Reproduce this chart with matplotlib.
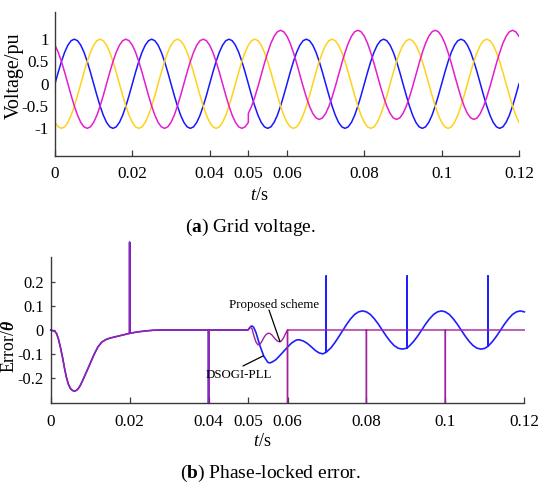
import numpy as np
import matplotlib
matplotlib.use("Agg")
import matplotlib.pyplot as plt

plt.rcParams['font.family'] = ['Liberation Serif', 'DejaVu Serif']
plt.rcParams['mathtext.fontset'] = 'custom'
plt.rcParams['mathtext.rm'] = 'Liberation Serif'
plt.rcParams['mathtext.it'] = 'Liberation Serif:italic'
plt.rcParams['mathtext.bf'] = 'Liberation Serif:bold'
plt.rcParams['mathtext.bfit'] = 'Liberation Serif:bold:italic'

# ---------------- (a) Grid voltage data (sampled every 1/1200 s) ----------------
t_volt = np.arange(145) / 1200.0

volt_a = [0, .259, .5, .707, .866, .966, 1, .966, .866, .707, .5, .259, 0, -.259, -.5, -.707, -.866, -.966, -1, -.966, -.866, -.707, -.5, -.259,
          0, .259, .5, .707, .866, .966, 1, .966, .866, .707, .5, .259, 0, -.259, -.5, -.707, -.866, -.966, -1, -.966, -.866, -.707, -.5, -.259,
          0, .259, .5, .707, .866, .966, 1, .966, .866, .707, .5, .259, 0, -.259, -.5, -.707, -.866, -.966, -1, -.966, -.866, -.707, -.5, -.259,
          0, .259, .5, .707, .866, .966, 1, .966, .866, .707, .5, .259, 0, -.259, -.5, -.707, -.866, -.966, -1, -.966, -.866, -.707, -.5, -.259,
          0, .259, .5, .707, .866, .966, 1, .966, .866, .707, .5, .259, 0, -.259, -.5, -.707, -.866, -.966, -1, -.966, -.866, -.707, -.5, -.259,
          0, .259, .5, .707, .866, .966, 1, .966, .866, .707, .5, .259, 0, -.259, -.5, -.707, -.866, -.966, -1, -.966, -.866, -.707, -.5, -.259,
          0]

volt_c = [-.866, -.966, -1, -.966, -.866, -.707, -.5, -.259, 0, .259, .5, .707, .866, .966, 1, .966, .866, .707, .5, .259, 0, -.259, -.5, -.707,
          -.866, -.966, -1, -.966, -.866, -.707, -.5, -.259, 0, .259, .5, .707, .866, .966, 1, .966, .866, .707, .5, .259, 0, -.259, -.5, -.707,
          -.866, -.966, -1, -.966, -.866, -.707, -.5, -.259, 0, .259, .5, .707, .866, .966, 1, .966, .866, .707, .5, .259, 0, -.259, -.5, -.707,
          -.866, -.966, -1, -.966, -.866, -.707, -.5, -.259, 0, .259, .5, .707, .866, .966, 1, .966, .866, .707, .5, .259, 0, -.259, -.5, -.707,
          -.866, -.966, -1, -.966, -.866, -.707, -.5, -.259, 0, .259, .5, .707, .866, .966, 1, .966, .866, .707, .5, .259, 0, -.259, -.5, -.707,
          -.866, -.966, -1, -.966, -.866, -.707, -.5, -.259, 0, .259, .5, .707, .866, .966, 1, .966, .866, .707, .5, .259, 0, -.259, -.5, -.707,
          -.866]

# phase b: before the 0.05 s disturbance (k = 0..60)
volt_b_pre = [.866, .707, .5, .259, 0, -.259, -.5, -.707, -.866, -.966, -1, -.966, -.866, -.707, -.5, -.259, 0, .259, .5, .707, .866, .966, 1, .966,
              .866, .707, .5, .259, 0, -.259, -.5, -.707, -.866, -.966, -1, -.966, -.866, -.707, -.5, -.259, 0, .259, .5, .707, .866, .966, 1, .966,
              .866, .707, .5, .259, 0, -.259, -.5, -.707, -.866, -.966, -1, -.966, -.866]
# phase b: after the 0.05 s disturbance (k = 60..144)
volt_b_post = [-.666, -.507, -.3, -.059, .2, .459, .7, .907, 1.066, 1.166, 1.2, 1.166,
               1.066, .907, .7, .459, .2, -.059, -.3, -.507, -.666, -.766, -.8, -.766, -.666, -.507, -.3, -.059, .2, .459, .7, .907, 1.066, 1.166, 1.2, 1.166,
               1.066, .907, .7, .459, .2, -.059, -.3, -.507, -.666, -.766, -.8, -.766, -.666, -.507, -.3, -.059, .2, .459, .7, .907, 1.066, 1.166, 1.2, 1.166,
               1.066, .907, .7, .459, .2, -.059, -.3, -.507, -.666, -.766, -.8, -.766, -.666, -.507, -.3, -.059, .2, .459, .7, .907, 1.066, 1.166, 1.2, 1.166,
               1.066]

volt_xticks = [0, 0.02, 0.04, 0.05, 0.06, 0.08, 0.1, 0.12]
volt_xticklabels = ['0', '0.02', '0.04', '0.05', '0.06', '0.08', '0.1', '0.12']
volt_yticks = [1, 0.5, 0, -0.5, -1]
volt_yticklabels = ['1', '0.5', '0', '-0.5', '-1']

# ---------------- (b) Phase-locked error data ----------------
trans_t = [0, 0.001, 0.0015, 0.002, 0.0025, 0.003, 0.0035, 0.004, 0.0045, 0.005, 0.0055, 0.006, 0.0065,
           0.007, 0.0075, 0.008, 0.009, 0.010, 0.011, 0.012, 0.013, 0.014, 0.015, 0.016, 0.017, 0.018,
           0.019, 0.020, 0.020, 0.020, 0.022, 0.024, 0.026, 0.028, 0.030, 0.040, 0.040, 0.040, 0.050]
trans_e = [0, -0.005, -0.015, -0.04, -0.075, -0.115, -0.16, -0.2, -0.228, -0.245, -0.253, -0.256, -0.253,
           -0.245, -0.232, -0.215, -0.178, -0.14, -0.102, -0.07, -0.05, -0.04, -0.034, -0.03, -0.026, -0.022,
           -0.018, -0.014, 0.367, -0.014, -0.008, -0.004, -0.001, 0, 0, 0, -0.307, 0, 0]

dsogi_t = [0.0503, 0.0507, 0.051, 0.0514, 0.052, 0.053, 0.054, 0.055, 0.0555, 0.056, 0.057, 0.058, 0.059,
           0.060, 0.061, 0.062, 0.0625, 0.063, 0.064, 0.065, 0.066, 0.067, 0.068, 0.069, 0.0698, 0.0698, 0.0698,
           0.071, 0.072, 0.073, 0.074, 0.075, 0.076, 0.077, 0.078, 0.079, 0.080, 0.081, 0.082, 0.083, 0.084,
           0.085, 0.086, 0.087, 0.088, 0.089, 0.090, 0.0903, 0.0903, 0.0903, 0.091, 0.092, 0.093, 0.094,
           0.095, 0.096, 0.097, 0.098, 0.099, 0.100, 0.101, 0.102, 0.103, 0.104, 0.105, 0.106, 0.107, 0.108,
           0.109, 0.110, 0.1108, 0.1108, 0.1108, 0.111, 0.112, 0.113, 0.114, 0.115, 0.116, 0.117, 0.118, 0.119, 0.120]
dsogi_e = [0.006, 0.015, 0.017, 0.012, -0.01, -0.065, -0.11, -0.135, -0.138, -0.135, -0.125, -0.108, -0.09,
           -0.072, -0.055, -0.044, -0.041, -0.041, -0.046, -0.056, -0.07, -0.085, -0.096, -0.1, -0.093, 0.226, -0.093,
           -0.075, -0.053, -0.028, -0.002, 0.024, 0.047, 0.065, 0.076, 0.08, 0.076, 0.065, 0.047, 0.025, 0.0,
           -0.025, -0.047, -0.065, -0.076, -0.08, -0.077, -0.075, 0.226, -0.075, -0.065, -0.047, -0.025, 0.0,
           0.025, 0.047, 0.065, 0.076, 0.08, 0.076, 0.065, 0.047, 0.025, 0.0, -0.025, -0.047, -0.065, -0.076,
           -0.08, -0.077, -0.068, 0.226, -0.068, -0.065, -0.047, -0.025, 0.0, 0.025, 0.047, 0.065, 0.076, 0.08, 0.076]

prop_t = [0.0503, 0.0506, 0.051, 0.0515, 0.052, 0.0525, 0.053, 0.0535, 0.054, 0.0545, 0.055, 0.0555, 0.056,
          0.0565, 0.057, 0.0575, 0.058, 0.0585, 0.059, 0.0595, 0.060, 0.060, 0.060, 0.080, 0.080, 0.080,
          0.100, 0.100, 0.100, 0.120]
prop_e = [0.008, 0.012, 0.005, -0.025, -0.05, -0.062, -0.06, -0.048, -0.032, -0.02, -0.014, -0.014, -0.02,
          -0.03, -0.04, -0.047, -0.049, -0.045, -0.033, -0.015, 0, -0.307, 0, 0, -0.307, 0,
          0, -0.307, 0, 0]

err_yticks = [0.2, 0.1, 0, -0.1, -0.2]
err_yticklabels = ['0.2', '0.1', '0', '-0.1', '-0.2']

# ---------------- figure ----------------
W, H = 550, 488
fig = plt.figure(figsize=(W / 100, H / 100), dpi=100)

def fx(px):
    return px / W

def fy(py):
    return 1 - py / H

spine_col = '#3a3a3a'
tick_fs = 12.3

def style_axes(ax):
    for s in ['top', 'right']:
        ax.spines[s].set_visible(False)
    for s in ['left', 'bottom']:
        ax.spines[s].set_color(spine_col)
        ax.spines[s].set_linewidth(1.0)
    ax.tick_params(axis='x', direction='in', length=4, width=0.9, color=spine_col,
                   labelsize=tick_fs, pad=7.5)
    ax.tick_params(axis='y', direction='in', length=0, width=0.9, color=spine_col,
                   labelsize=tick_fs, pad=4.5)

# (a)
ax1 = fig.add_axes([fx(55), fy(156), fx(464), 144 / H])
ax1.plot(t_volt, volt_a, color='#1717FF', lw=1.1)
ax1.plot(t_volt, volt_c, color='#FFD21A', lw=1.1)
t_b = np.concatenate([t_volt[:61], t_volt[60:]])
ax1.plot(t_b, volt_b_pre + volt_b_post, color='#E41ECC', lw=1.1)
ax1.set_xlim(0, 0.12)
ax1.set_ylim(-1.62, 1.61)
ax1.set_xticks(volt_xticks)
ax1.set_xticklabels(volt_xticklabels)
ax1.set_yticks(volt_yticks)
ax1.set_yticklabels(volt_yticklabels)
style_axes(ax1)

fig.text(fx(14), fy(76), 'Voltage/pu', rotation=90, ha='center', va='center', fontsize=14.5)
fig.text(fx(259), fy(196), '$t$/s', ha='center', va='center', fontsize=13)
fig.text(fx(251), fy(227), r'($\mathbf{a}$) Grid voltage.', ha='center', va='center', fontsize=14)

# (b)
ax2 = fig.add_axes([fx(50.7), fy(403.3), fx(473.6), 146.6 / H])
ax2.plot(trans_t + dsogi_t, trans_e + dsogi_e, color='#1E1EFF', lw=1.2, clip_on=False)
ax2.plot(trans_t + prop_t, trans_e + prop_e, color='#A3209F', lw=1.0, clip_on=False)
ax2.set_xlim(0, 0.12)
ax2.set_ylim(-0.307, 0.307)
ax2.set_xticks(volt_xticks)
ax2.set_xticklabels(volt_xticklabels)
ax2.set_yticks(err_yticks)
ax2.set_yticklabels(err_yticklabels)
style_axes(ax2)
ax2.tick_params(axis='y', length=3, labelsize=11.8, pad=5)

fig.text(fx(10), fy(346), r'Error/$\mathbfit{\theta}$', rotation=90, ha='center', va='center', fontsize=12.8)
fig.text(fx(262), fy(442), '$t$/s', ha='center', va='center', fontsize=13)
fig.text(fx(270), fy(473), r'($\mathbf{b}$) Phase-locked error.', ha='center', va='center', fontsize=14)

# annotations
fig.text(fx(229), fy(305), 'Proposed scheme', ha='left', va='center', fontsize=9.3)
ax2.annotate('', xy=(0.0581, -0.049), xycoords='data',
             xytext=(fx(269), fy(310)), textcoords='figure fraction',
             arrowprops=dict(arrowstyle='-', color='black', lw=0.9, shrinkA=0, shrinkB=0))
fig.text(fx(239), fy(375), 'DSOGI-PLL', ha='center', va='center', fontsize=9.3)
ax2.annotate('', xy=(0.0539, -0.108), xycoords='data',
             xytext=(fx(243), fy(366)), textcoords='figure fraction',
             arrowprops=dict(arrowstyle='-', color='black', lw=0.9, shrinkA=0, shrinkB=0))

fig.savefig('out.png', dpi=100)
